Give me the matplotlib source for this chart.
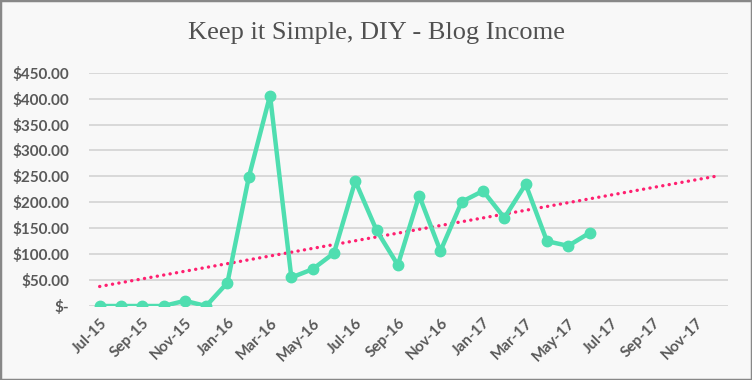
# Blog income chart, monthly with linear trend
import matplotlib
matplotlib.use('Agg')
import matplotlib.pyplot as plt
import numpy as np
from matplotlib.patches import Rectangle

months = ['Jul-15', 'Aug-15', 'Sep-15', 'Oct-15', 'Nov-15', 'Dec-15',
          'Jan-16', 'Feb-16', 'Mar-16', 'Apr-16', 'May-16', 'Jun-16',
          'Jul-16', 'Aug-16', 'Sep-16', 'Oct-16', 'Nov-16', 'Dec-16',
          'Jan-17', 'Feb-17', 'Mar-17', 'Apr-17', 'May-17', 'Jun-17']
income = [0, 0, 0, 0, 10, 0,
          45, 248, 406, 55, 71, 102,
          241, 146, 79, 213, 106, 201,
          222, 170, 235, 125, 116, 141]
tick_labels = ['Jul-15', 'Sep-15', 'Nov-15', 'Jan-16', 'Mar-16', 'May-16',
               'Jul-16', 'Sep-16', 'Nov-16', 'Jan-17', 'Mar-17', 'May-17',
               'Jul-17', 'Sep-17', 'Nov-17']
forecast_months = 6  # trendline runs on to Dec-17

bg = '#f8f8f8'
grey = '#595959'

fig = plt.figure(figsize=(7.52, 3.80), dpi=100, facecolor=bg)
ax = fig.add_axes([89/752, 1 - 306/380, (728 - 89)/752, (306 - 72.7)/380])
ax.set_facecolor(bg)

x = np.arange(len(income))
# linear trend, extended forward like the spreadsheet forecast
slope, icpt = np.polyfit(x, income, 1)
xt = np.arange(len(income) + forecast_months)
ax.plot(xt, slope * xt + icpt, color='#ff2070', lw=2.4,
        linestyle=(0, (0.05, 1.9)), dash_capstyle='round', zorder=2)

ax.plot(x, income, color='#4fdeb0', lw=3.2, marker='o', markersize=7.5,
        solid_joinstyle='round', zorder=3)

ax.set_xlim(-0.5, len(xt) - 0.5)
ax.set_ylim(0, 450)
ax.set_yticks(np.arange(0, 451, 50))
ax.set_yticklabels(['$-'] + ['$%.2f' % v for v in np.arange(50, 451, 50)])
ax.set_xticks(np.arange(0, len(xt), 2))
ax.set_xticklabels(tick_labels, rotation=45, ha='right', va='top',
                   rotation_mode='anchor')

for lab in ax.get_yticklabels() + ax.get_xticklabels():
    lab.set_family('Lato')
    lab.set_weight('bold')
    lab.set_color(grey)
    lab.set_fontsize(11)

ax.tick_params(length=0)
ax.tick_params(axis='y', pad=14)
ax.tick_params(axis='x', pad=7)
ax.grid(axis='y', color='#d9d9d9', lw=1.4)
ax.set_axisbelow(True)
for s in ax.spines.values():
    s.set_visible(False)

fig.text(0.5, 1 - 33/380, 'Keep it Simple, DIY - Blog Income', ha='center',
         va='center', family='Liberation Serif', fontsize=19, color='#505050')

fig.patches.append(Rectangle((0, 0), 1, 1, transform=fig.transFigure,
                             fill=False, edgecolor='#888888', lw=2.5))

fig.savefig('out.png', dpi=100, facecolor=bg)
